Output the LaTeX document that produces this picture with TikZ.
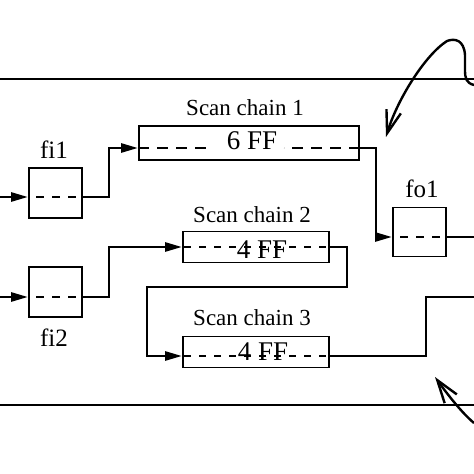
\documentclass[tikz,border=0pt]{standalone}
\usepackage{fontspec}
\setmainfont{Liberation Serif}
\usetikzlibrary{arrows.meta}

\begin{document}
\begin{tikzpicture}[x=1pt,y=-1pt,
    ffbox/.style={draw,line width=1.9pt,minimum width=53pt,minimum height=50pt,inner sep=0pt},
    chainbox/.style={draw,line width=1.9pt,minimum height=32pt,inner sep=0pt},
    ffdash/.style={line width=1.8pt,dash pattern=on 8pt off 8pt,dash phase=8pt},
    wire/.style={line width=2.7pt},
    arr/.style={-{Triangle[length=17pt,width=9pt]}},
    curly/.style={line width=2.4pt,-{Straight Barb[length=23pt,width=15pt]}},
    frame/.style={line width=1.9pt},
    fflabel/.style={font=\fontsize{25}{28}\selectfont},
    chainlabel/.style={font=\fontsize{23}{26}\selectfont},
    fftext/.style={font=\fontsize{27}{30}\selectfont,inner sep=0pt}]
  \useasboundingbox (0,0) rectangle (474,474);
  \draw[frame] (0,79) -- (474,79);
  \draw[frame] (0,405) -- (474,405);

  \node[ffbox] (fi1) at (55.5,193) {};
  \node[ffbox] (fi2) at (55.5,292) {};
  \node[ffbox,minimum height=49pt] (fo1) at (419.5,232) {};
  \node[chainbox,minimum width=220pt,minimum height=34pt] (cA) at (249,143) {};
  \node[chainbox,minimum width=146pt,minimum height=31pt] (cB) at (256,247) {};
  \node[chainbox,minimum width=146pt,minimum height=31pt] (cC) at (256,352) {};

  \coordinate (fi1i) at ([yshift=-4pt]fi1.west);
  \coordinate (fi1o) at ([yshift=-4pt]fi1.east);
  \coordinate (fi2i) at ([yshift=-5pt]fi2.west);
  \coordinate (fi2o) at ([yshift=-5pt]fi2.east);
  \coordinate (fo1i) at ([yshift=-5pt]fo1.west);
  \coordinate (fo1o) at ([yshift=-5pt]fo1.east);
  \coordinate (cAi) at ([yshift=-5pt]cA.west);
  \coordinate (cAo) at ([yshift=-5pt]cA.east);
  \coordinate (cBi) at (cB.west);
  \coordinate (cBo) at (cB.east);
  \coordinate (cCi) at ([yshift=-4pt]cC.west);
  \coordinate (cCo) at ([yshift=-4pt]cC.east);

  \foreach \n in {fi1,fi2,fo1}
    \draw[ffdash] (\n i) -- (\n o);
  \foreach \n in {cB,cC}
    \draw[ffdash,dash pattern=on 7pt off 8pt,dash phase=13pt] (\n i) -- (\n o);
  \draw[ffdash,dash pattern=on 11pt off 8pt,dash phase=0pt] (cAi) -- ++(71,0);
  \draw[ffdash,dash pattern=on 11pt off 8pt,dash phase=0pt] (cAo) -- ++(-76,0);

  \node[fflabel] (fi1lbl) at (54,150) {fi1};
  \node[fflabel] (fi2lbl) at (54,338) {fi2};
  \node[fflabel] (fo1lbl) at (422,189) {fo1};
  \node[chainlabel] (cAlbl) at (245,108) {Scan chain 1};
  \node[chainlabel] (cBlbl) at (252,215) {Scan chain 2};
  \node[chainlabel] (cClbl) at (252,318) {Scan chain 3};
  \node[fftext] (cAtxt) at (252,141) {6 FF};
  \node[fftext] (cBtxt) at (262,250) {4 FF};
  \node[fftext] (cCtxt) at (263,352) {4 FF};

  \coordinate (in1) at (0,197);
  \coordinate (in2) at (0,297);
  \coordinate (out1) at (474,237);
  \coordinate (out2) at (474,297);

  \draw[wire,arr] (in1) -- (fi1i);
  \draw[wire,arr] (in2) -- (fi2i);
  \draw[wire,arr] (fi1o) -- ++(26,0) |- (cAi);
  \draw[wire,arr] (fi2o) -- ++(26,0) |- (cBi);
  \draw[wire,arr] (cAo) -- ++(16,0) |- (fo1i);
  \draw[wire,arr] (cBo) -- ++(17,0) -- ++(0,40) -| ([xshift=-35pt]cCi) -- (cCi);
  \draw[wire] (cCo) -- ++(96,0) |- (out2);
  \draw[wire] (fo1o) -- (out1);

  \draw[curly] (474,85) .. controls (466,83) and (465,78) .. (465,70) -- (465,55)
    .. controls (464,40) and (455,38) .. (447,41)
    .. controls (425,55) and (397,100) .. (386,137);
  \draw[curly] (474,423) .. controls (462,413) and (448,395) .. (435,377);
\end{tikzpicture}
\end{document}
